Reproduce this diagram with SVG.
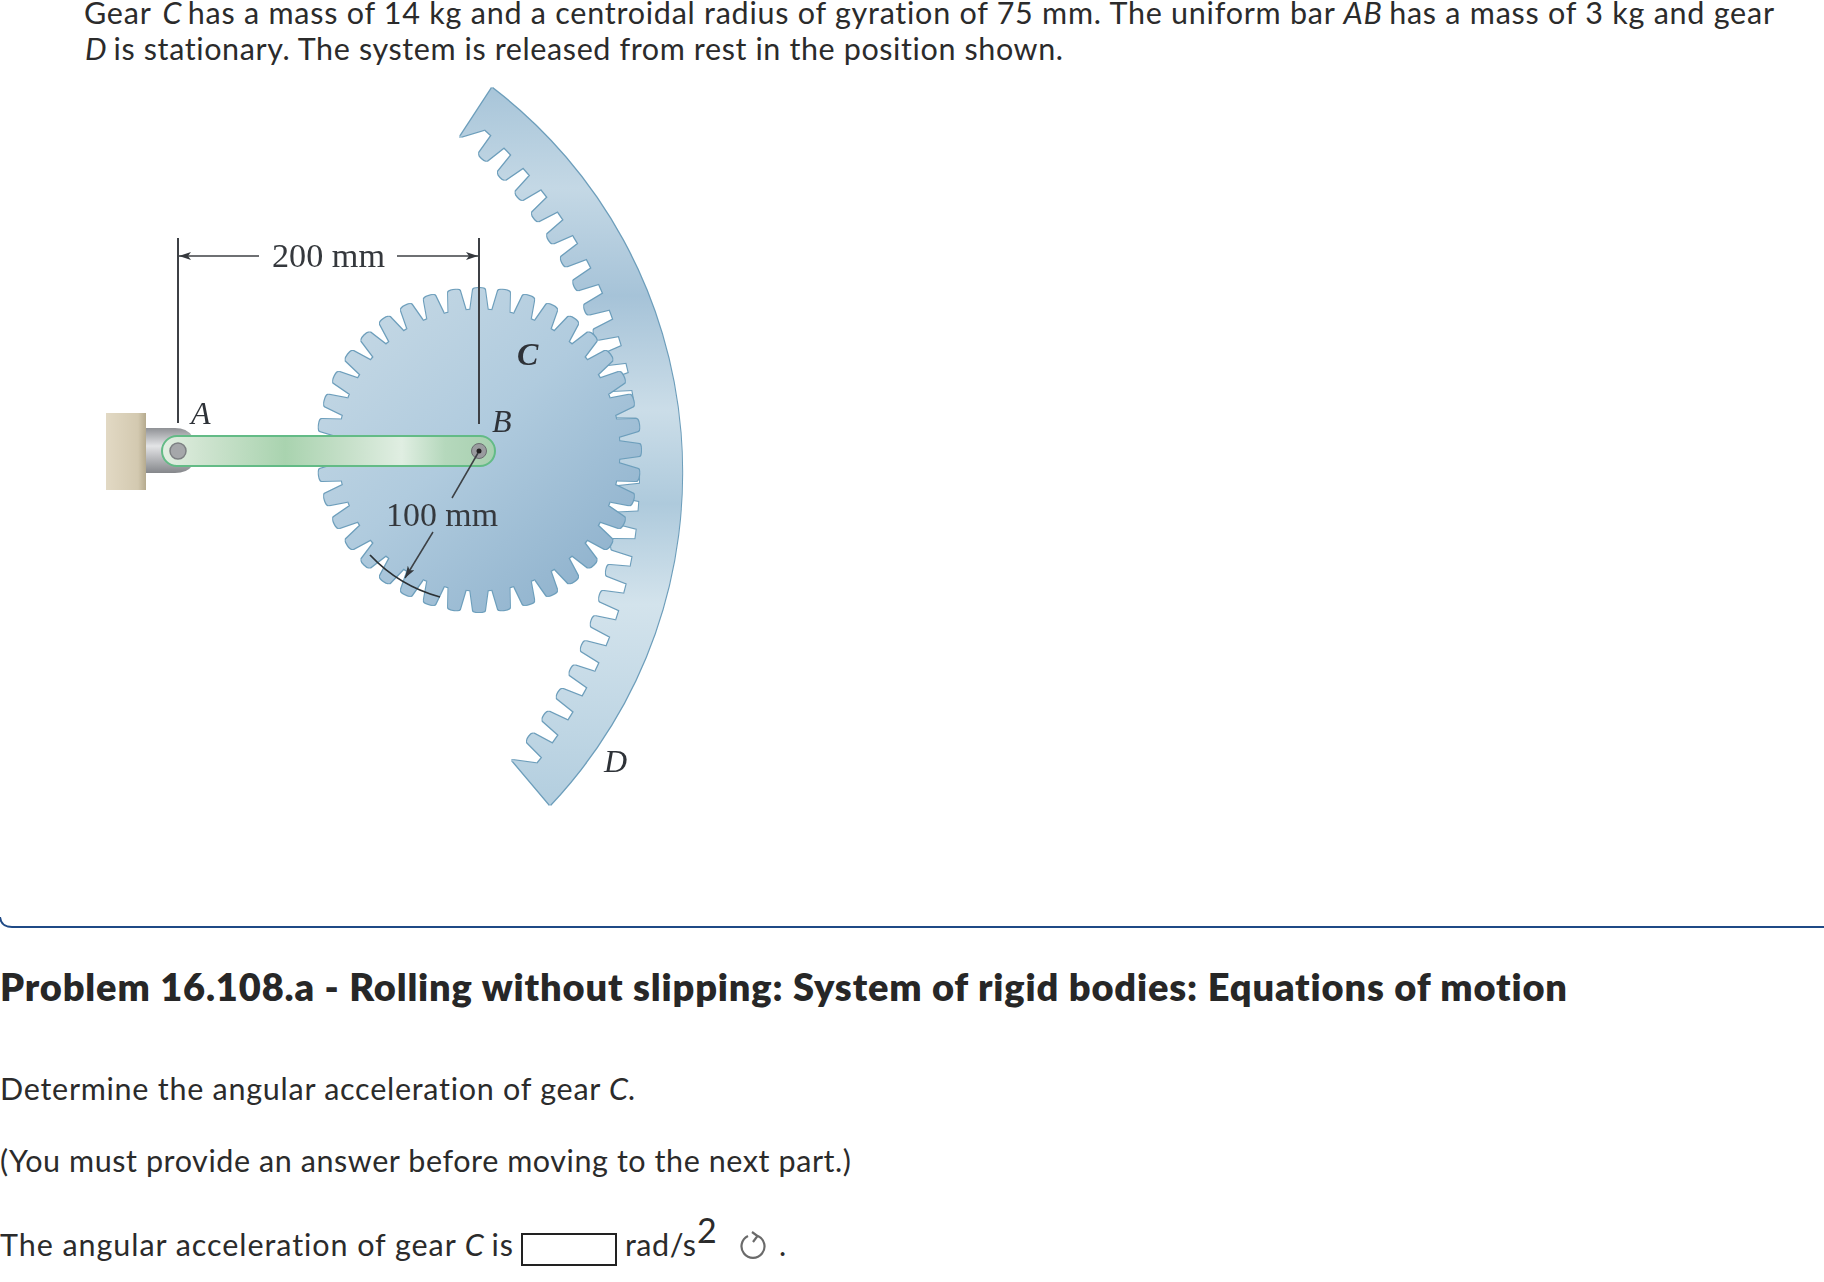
<svg xmlns="http://www.w3.org/2000/svg" xmlns:xlink="http://www.w3.org/1999/xlink" width="1824" height="1282" viewBox="0 0 1824 1282">
<style>
.t{font-family:"Lato","Open Sans",sans-serif;font-size:30.5px;fill:#2b2b2b;font-variant-ligatures:none}
.h{font-family:"Lato","Open Sans",sans-serif;font-size:38px;font-weight:800;fill:#272727;font-variant-ligatures:none}
.s{font-family:"Liberation Serif",serif;font-size:33px;fill:#34383c}
.i{font-family:"Liberation Serif",serif;font-size:32px;font-style:italic;fill:#2f3338}
.e{font-style:italic}
.d{stroke:#3c4044;fill:none}
</style>
<defs>
<path id="ct" d="M470 312L473 290Q473.500 288 479 288Q484.500 288 485 290L488 312Z"/>
<path id="rt" d="M646 464.500L619 468.500Q617 469 617 474Q617 479 619 479.500L646 483.500Z"/>
<linearGradient id="gc" gradientUnits="userSpaceOnUse" x1="360" y1="320" x2="600" y2="590">
<stop offset="0" stop-color="#c3d7e4"/><stop offset=".45" stop-color="#b0cbde"/><stop offset="1" stop-color="#8fb2cd"/>
</linearGradient>
<linearGradient id="gd" gradientUnits="userSpaceOnUse" x1="0" y1="88" x2="0" y2="805">
<stop offset="0" stop-color="#a8c5d9"/><stop offset=".14" stop-color="#c4d8e5"/><stop offset=".29" stop-color="#a6c3d8"/><stop offset=".45" stop-color="#cbdde8"/><stop offset=".58" stop-color="#aecadc"/><stop offset=".72" stop-color="#d3e3ec"/><stop offset="1" stop-color="#b3cedf"/>
</linearGradient>
<linearGradient id="bar" x1="0" y1="0" x2="1" y2="0">
<stop offset="0" stop-color="#e2efe2"/><stop offset=".12" stop-color="#cfe4d0"/><stop offset=".37" stop-color="#a9d3af"/><stop offset=".55" stop-color="#c5dfc8"/><stop offset=".72" stop-color="#e0eee2"/><stop offset=".85" stop-color="#b5d8bc"/><stop offset="1" stop-color="#a8d0b0"/>
</linearGradient>
<linearGradient id="wall" x1="0" y1="0" x2="1" y2="0">
<stop offset="0" stop-color="#e2d9c4"/><stop offset=".8" stop-color="#d3c9b0"/><stop offset="1" stop-color="#b5aa8e"/>
</linearGradient>
<linearGradient id="brk" x1="0" y1="0" x2="0" y2="1">
<stop offset="0" stop-color="#8f9195"/><stop offset=".4" stop-color="#e3e4e6"/><stop offset="1" stop-color="#85878b"/>
</linearGradient>
<filter id="edge" x="-5%" y="-5%" width="110%" height="110%">
<feMorphology in="SourceAlpha" operator="dilate" radius="1" result="m"/>
<feFlood flood-color="#6d9fbc"/><feComposite in2="m" operator="in" result="o"/>
<feMerge result="c"><feMergeNode in="o"/><feMergeNode in="SourceGraphic"/></feMerge>
<feGaussianBlur in="c" stdDeviation=".7"/>
</filter>
<filter id="soft" x="-5%" y="-5%" width="110%" height="110%"><feGaussianBlur stdDeviation=".55"/></filter>
<marker id="ah" viewBox="0 0 12 8" refX="12" refY="4" markerWidth="12" markerHeight="8" orient="auto" markerUnits="userSpaceOnUse"><path d="M0 0L12 4L0 8L3 4Z" fill="#34383c"/></marker>
<clipPath id="cd">
<path d="M492 88A484 484 0 0 1 550 805L512 760L537.500 763.500A460 460 0 0 0 485 129.500L460 137Z"/>
<use xlink:href="#rt" transform="rotate(-46.3 180 474)"/><use xlink:href="#rt" transform="rotate(-42.83 180 474)"/><use xlink:href="#rt" transform="rotate(-39.36 180 474)"/><use xlink:href="#rt" transform="rotate(-35.89 180 474)"/><use xlink:href="#rt" transform="rotate(-32.42 180 474)"/><use xlink:href="#rt" transform="rotate(-28.95 180 474)"/><use xlink:href="#rt" transform="rotate(-25.48 180 474)"/><use xlink:href="#rt" transform="rotate(-22.01 180 474)"/><use xlink:href="#rt" transform="rotate(-18.54 180 474)"/><use xlink:href="#rt" transform="rotate(-15.07 180 474)"/><use xlink:href="#rt" transform="rotate(-11.6 180 474)"/><use xlink:href="#rt" transform="rotate(-8.13 180 474)"/><use xlink:href="#rt" transform="rotate(-4.66 180 474)"/><use xlink:href="#rt" transform="rotate(-1.19 180 474)"/><use xlink:href="#rt" transform="rotate(2.28 180 474)"/><use xlink:href="#rt" transform="rotate(5.75 180 474)"/><use xlink:href="#rt" transform="rotate(9.22 180 474)"/><use xlink:href="#rt" transform="rotate(12.69 180 474)"/><use xlink:href="#rt" transform="rotate(16.16 180 474)"/><use xlink:href="#rt" transform="rotate(19.63 180 474)"/><use xlink:href="#rt" transform="rotate(23.1 180 474)"/><use xlink:href="#rt" transform="rotate(26.57 180 474)"/><use xlink:href="#rt" transform="rotate(30.04 180 474)"/><use xlink:href="#rt" transform="rotate(33.51 180 474)"/><use xlink:href="#rt" transform="rotate(36.98 180 474)"/>
</clipPath>
<clipPath id="cc">
<circle cx="479" cy="450" r="140.500"/>
<use xlink:href="#ct"/><use xlink:href="#ct" transform="rotate(9 479 450)"/><use xlink:href="#ct" transform="rotate(18 479 450)"/><use xlink:href="#ct" transform="rotate(27 479 450)"/><use xlink:href="#ct" transform="rotate(36 479 450)"/><use xlink:href="#ct" transform="rotate(45 479 450)"/><use xlink:href="#ct" transform="rotate(54 479 450)"/><use xlink:href="#ct" transform="rotate(63 479 450)"/><use xlink:href="#ct" transform="rotate(72 479 450)"/><use xlink:href="#ct" transform="rotate(81 479 450)"/><use xlink:href="#ct" transform="rotate(90 479 450)"/><use xlink:href="#ct" transform="rotate(99 479 450)"/><use xlink:href="#ct" transform="rotate(108 479 450)"/><use xlink:href="#ct" transform="rotate(117 479 450)"/><use xlink:href="#ct" transform="rotate(126 479 450)"/><use xlink:href="#ct" transform="rotate(135 479 450)"/><use xlink:href="#ct" transform="rotate(144 479 450)"/><use xlink:href="#ct" transform="rotate(153 479 450)"/><use xlink:href="#ct" transform="rotate(162 479 450)"/><use xlink:href="#ct" transform="rotate(171 479 450)"/><use xlink:href="#ct" transform="rotate(180 479 450)"/><use xlink:href="#ct" transform="rotate(189 479 450)"/><use xlink:href="#ct" transform="rotate(198 479 450)"/><use xlink:href="#ct" transform="rotate(207 479 450)"/><use xlink:href="#ct" transform="rotate(216 479 450)"/><use xlink:href="#ct" transform="rotate(225 479 450)"/><use xlink:href="#ct" transform="rotate(234 479 450)"/><use xlink:href="#ct" transform="rotate(243 479 450)"/><use xlink:href="#ct" transform="rotate(252 479 450)"/><use xlink:href="#ct" transform="rotate(261 479 450)"/><use xlink:href="#ct" transform="rotate(270 479 450)"/><use xlink:href="#ct" transform="rotate(279 479 450)"/><use xlink:href="#ct" transform="rotate(288 479 450)"/><use xlink:href="#ct" transform="rotate(297 479 450)"/><use xlink:href="#ct" transform="rotate(306 479 450)"/><use xlink:href="#ct" transform="rotate(315 479 450)"/><use xlink:href="#ct" transform="rotate(324 479 450)"/><use xlink:href="#ct" transform="rotate(333 479 450)"/><use xlink:href="#ct" transform="rotate(342 479 450)"/><use xlink:href="#ct" transform="rotate(351 479 450)"/>
</clipPath>
</defs>
<rect width="1824" height="1282" fill="#fff"/>
<g id="prompt">
<text class="t" x="84" y="24" textLength="1690"><tspan>Gear </tspan><tspan class="e" dx="3">C</tspan><tspan dx="-3"> has a mass of 14 kg and a centroidal radius of gyration of 75 mm. The uniform bar </tspan><tspan class="e">AB</tspan><tspan dx="-2"> has a mass of 3 kg and gear</tspan></text>
<text class="t" x="85" y="60" textLength="978"><tspan class="e">D</tspan><tspan dx="-2"> is stationary. The system is released from rest in the position shown.</tspan></text>
</g>
<g id="gear-D" filter="url(#edge)"><rect x="440" y="70" width="260" height="750" fill="url(#gd)" clip-path="url(#cd)"/></g>
<g id="gear-C" filter="url(#edge)"><rect x="300" y="270" width="360" height="360" fill="url(#gc)" clip-path="url(#cc)"/></g>
<g id="support" filter="url(#soft)">
<path d="M146 428H175Q187 428 192 436V466Q187 473 175 473H146Z" fill="url(#brk)"/>
<rect x="106" y="413" width="40" height="77" fill="url(#wall)"/>
</g>
<g id="bar-AB" filter="url(#soft)">
<rect x="162" y="436" width="333" height="30" rx="15" fill="url(#bar)" stroke="#63bb86" stroke-width="2"/>
<circle cx="178" cy="451" r="8" fill="#a5a7aa" stroke="#7d8083" stroke-width="1.500"/>
<circle cx="479" cy="451" r="7.500" fill="#9a9c9f" stroke="#6a6d70"/>
<circle cx="479" cy="451" r="2.500" fill="#222"/>
</g>
<g id="connectors" filter="url(#soft)">
<path class="d" stroke-width="2" d="M178 238V423M479 238V424"/>
<path class="d" stroke-width="1.600" marker-end="url(#ah)" d="M259 256H179"/>
<path class="d" stroke-width="1.600" marker-end="url(#ah)" d="M397 256H478"/>
<path class="d" stroke-width="1.500" d="M478 453L452 498"/>
<path class="d" stroke-width="1.500" marker-end="url(#ah)" d="M433 532L405 578"/>
<path stroke="#2c3034" stroke-width="1.800" fill="none" d="M370 555A151 151 0 0 0 440 597"/>
</g>
<g id="figure-labels" filter="url(#soft)">
<text class="s" x="272" y="267" textLength="113" lengthAdjust="spacingAndGlyphs">200 mm</text>
<text class="s" x="386" y="526" textLength="112" lengthAdjust="spacingAndGlyphs">100 mm</text>
<text class="i" x="191" y="424">A</text>
<text class="i" x="492" y="432">B</text>
<text class="i" x="517" y="365" font-weight="700">C</text>
<text class="i" x="604" y="772">D</text>
</g>
<path id="divider" d="M0 917Q1 927 12 927H1824" fill="none" stroke="#1f4a86" stroke-width="2"/>
<text id="heading" class="h" x="0" y="1001" textLength="1567">Problem 16.108.a - Rolling without slipping: System of rigid bodies: Equations of motion</text>
<g id="question">
<text class="t" x="0" y="1100" textLength="636"><tspan>Determine the angular acceleration of gear </tspan><tspan class="e">C.</tspan></text>
<text class="t" x="0" y="1172" textLength="851">(You must provide an answer before moving to the next part.)</text>
<text class="t" x="0" y="1256" textLength="513"><tspan>The angular acceleration of gear </tspan><tspan class="e">C</tspan><tspan dx="-2"> is</tspan></text>
<rect x="522" y="1234" width="94" height="31" fill="#fff" stroke="#222" stroke-width="2"/>
<text class="t" x="625" y="1256" textLength="71">rad/s</text>
<text class="t" x="697" y="1243" style="font-size:34px">2</text>
<path id="ccw-icon" d="M748 1236A11.500 11.500 0 1 0 758 1236M752 1232L757.500 1236L753 1242" fill="none" stroke="#6a6a6a" stroke-width="2.200"/>
<text class="t" x="779" y="1256">.</text>
</g>
</svg>
